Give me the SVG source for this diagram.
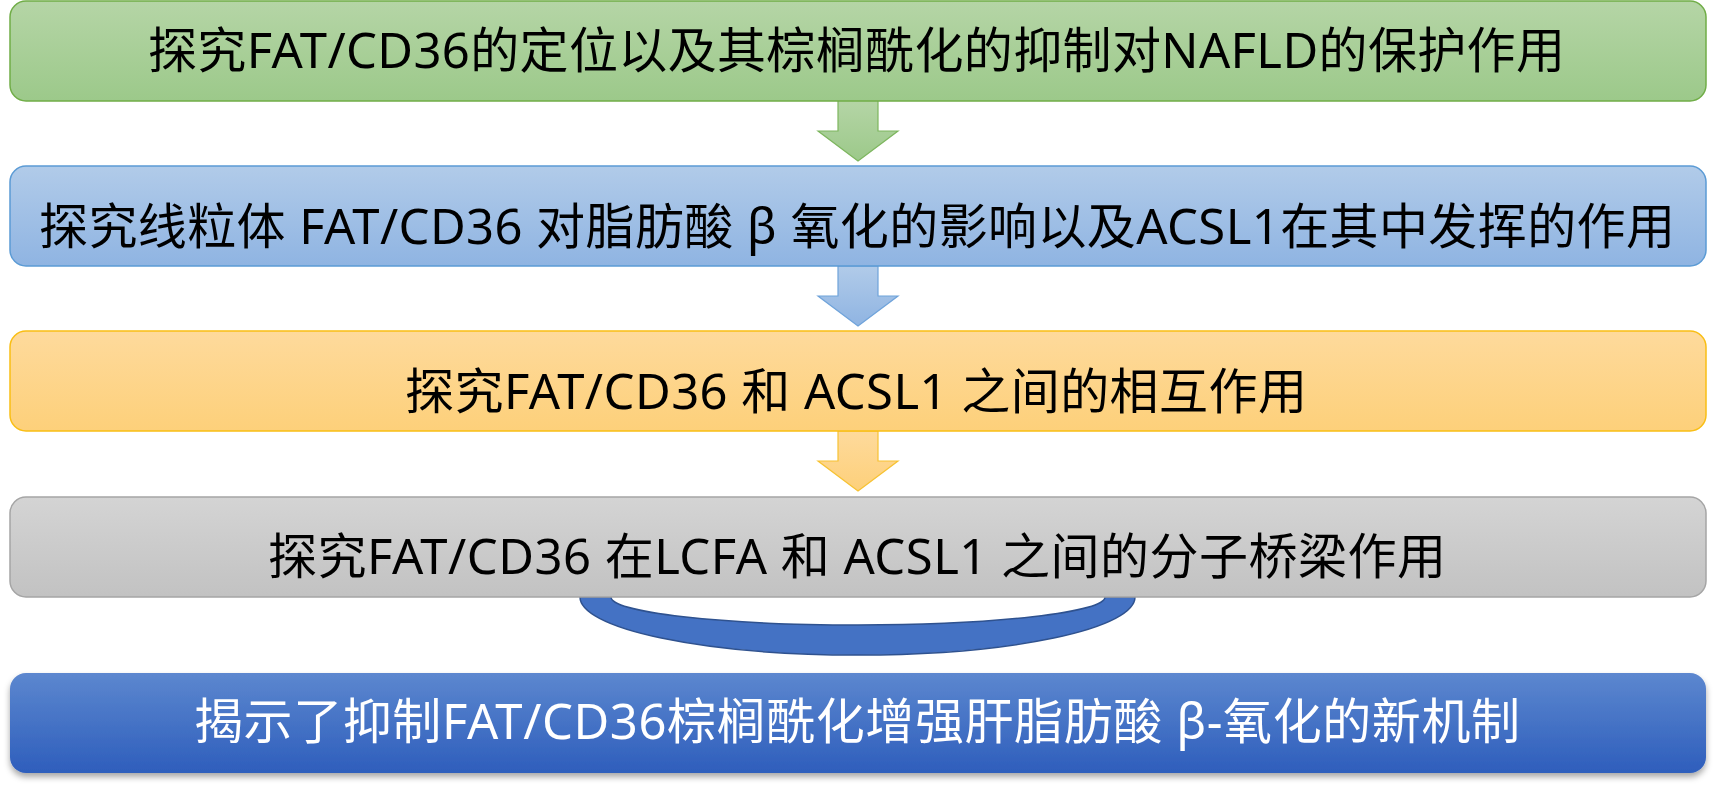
<svg xmlns="http://www.w3.org/2000/svg" width="1715" height="796" viewBox="0 0 1715 796">
  <defs>
    <linearGradient id="gGreen" x1="0" y1="0" x2="0" y2="1">
      <stop offset="0" stop-color="#B5D5A6"/>
      <stop offset="1" stop-color="#9CC98A"/>
    </linearGradient>
    <linearGradient id="gBlue" x1="0" y1="0" x2="0" y2="1">
      <stop offset="0" stop-color="#B1CBE9"/>
      <stop offset="1" stop-color="#8FB4E2"/>
    </linearGradient>
    <linearGradient id="gOrange" x1="0" y1="0" x2="0" y2="1">
      <stop offset="0" stop-color="#FEDA9C"/>
      <stop offset="1" stop-color="#FDD07A"/>
    </linearGradient>
    <linearGradient id="gGray" x1="0" y1="0" x2="0" y2="1">
      <stop offset="0" stop-color="#D4D4D4"/>
      <stop offset="1" stop-color="#C2C2C2"/>
    </linearGradient>
    <linearGradient id="gDark" x1="0" y1="0" x2="0" y2="1">
      <stop offset="0" stop-color="#5C87CF"/>
      <stop offset="1" stop-color="#2E5EBC"/>
    </linearGradient>
    <filter id="shadow" x="-5%" y="-20%" width="110%" height="150%">
      <feDropShadow dx="0" dy="4" stdDeviation="3" flood-color="#000000" flood-opacity="0.35"/>
    </filter>
  </defs>
  <style>
    .box { stroke-width: 1.5; }
    .lbl { font-family: "Noto Sans", "Noto Sans CJK SC", sans-serif; font-size: 49px; fill: #000000; }
    .lblw { fill: #FFFFFF; }
  </style>
  <rect width="1715" height="796" fill="#FFFFFF"/>

  <g id="connectors">
    <path id="arrow1" d="M838,100 L878,100 L878,131 L898,131 L858,161 L818,131 L838,131 Z" fill="url(#gGreen)" stroke="#7DB65E" stroke-width="1.2"/>
    <path id="arrow2" d="M838,266 L878,266 L878,296 L898,296 L858,326 L818,296 L838,296 Z" fill="url(#gBlue)" stroke="#6FA3DA" stroke-width="1.2"/>
    <path id="arrow3" d="M838,431 L878,431 L878,461 L898,461 L858,491 L818,461 L838,461 Z" fill="url(#gOrange)" stroke="#F7C232" stroke-width="1.2"/>
    <path id="bracket" d="M580,597 A277.5,58 0 0 0 1135,597 L1105,597 A247,28 0 0 1 611,597 Z" fill="#4472C4" stroke="#2F528F" stroke-width="1.5"/>
  </g>

  <g id="node1">
    <rect class="box" x="10" y="1" width="1696" height="100" rx="16" fill="url(#gGreen)" stroke="#70AD47"/>
    <text class="lbl" x="148" y="68" textLength="1417">探究FAT/CD36的定位以及其棕榈酰化的抑制对NAFLD的保护作用</text>
  </g>
  <g id="node2">
    <rect class="box" x="10" y="166" width="1696" height="100" rx="16" fill="url(#gBlue)" stroke="#5B9BD5"/>
    <text class="lbl" x="39" y="244" textLength="1636">探究线粒体 FAT/CD36 对脂肪酸 β 氧化的影响以及ACSL1在其中发挥的作用</text>
  </g>
  <g id="node3">
    <rect class="box" x="10" y="331" width="1696" height="100" rx="16" fill="url(#gOrange)" stroke="#F9BE14"/>
    <text class="lbl" x="405" y="409" textLength="902">探究FAT/CD36 和 ACSL1 之间的相互作用</text>
  </g>
  <g id="node4">
    <rect class="box" x="10" y="497" width="1696" height="100" rx="16" fill="url(#gGray)" stroke="#A5A5A5"/>
    <text class="lbl" x="268" y="574" textLength="1178">探究FAT/CD36 在LCFA 和 ACSL1 之间的分子桥梁作用</text>
  </g>
  <g id="node5">
    <rect x="10" y="673" width="1696" height="100" rx="16" fill="url(#gDark)" filter="url(#shadow)"/>
    <text class="lbl lblw" x="194" y="739" textLength="1326">揭示了抑制FAT/CD36棕榈酰化增强肝脂肪酸 β-氧化的新机制</text>
  </g>
</svg>
